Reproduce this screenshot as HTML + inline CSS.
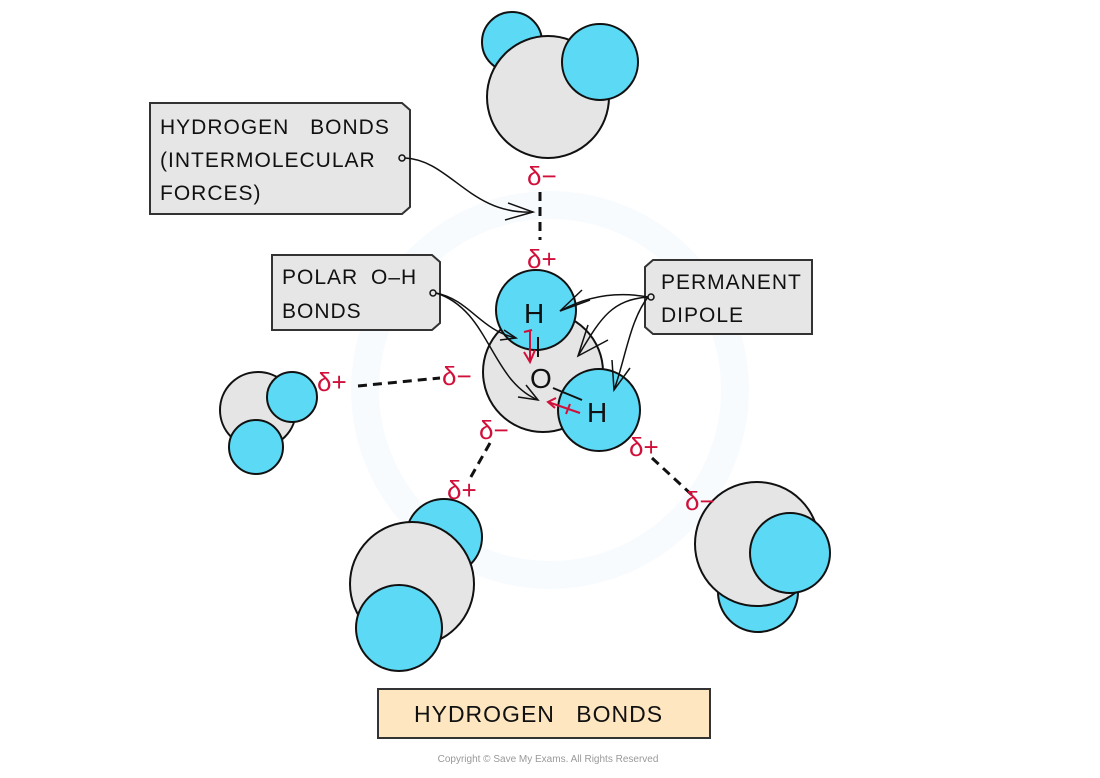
<!DOCTYPE html>
<html><head><meta charset="utf-8"><style>
html,body{margin:0;padding:0;background:#fff}
svg{display:block}
text{font-family:"Liberation Sans",sans-serif}
</style></head><body>
<svg width="1100" height="778" viewBox="0 0 1100 778" xmlns="http://www.w3.org/2000/svg">
<g opacity="0.04" fill="none" stroke="#4a90d9" stroke-width="28">
<circle cx="550" cy="390" r="185"/>
</g>
<g stroke="#111" stroke-width="2" >
<circle cx="512" cy="42" r="30" fill="#5bd9f5"/>
<circle cx="548" cy="97" r="61" fill="#e5e5e5"/>
<circle cx="600" cy="62" r="38" fill="#5bd9f5"/>
<circle cx="258" cy="410" r="38" fill="#e5e5e5"/>
<circle cx="292" cy="397" r="25" fill="#5bd9f5"/>
<circle cx="256" cy="447" r="27" fill="#5bd9f5"/>
<circle cx="444" cy="537" r="38" fill="#5bd9f5"/>
<circle cx="412" cy="584" r="62" fill="#e5e5e5"/>
<circle cx="399" cy="628" r="43" fill="#5bd9f5"/>
<circle cx="758" cy="592" r="40" fill="#5bd9f5"/>
<circle cx="757" cy="544" r="62" fill="#e5e5e5"/>
<circle cx="790" cy="553" r="40" fill="#5bd9f5"/>
<circle cx="543" cy="372" r="60" fill="#e5e5e5"/>
<circle cx="536" cy="310" r="40" fill="#5bd9f5"/>
<circle cx="599" cy="410" r="41" fill="#5bd9f5"/>
<line x1="538" y1="337" x2="538" y2="357"/>
<line x1="553" y1="388" x2="582" y2="400"/>
</g>
<g fill="#111" font-size="28">
<text x="524" y="323">H</text>
<text x="530" y="388">O</text>
<text x="587" y="422">H</text>
</g>
<g stroke="#111" stroke-width="3" stroke-dasharray="9,6" fill="none">
<line x1="540" y1="192" x2="540" y2="240"/>
<line x1="358" y1="386" x2="440" y2="378"/>
<line x1="490" y1="443" x2="468" y2="482"/>
<line x1="652" y1="458" x2="692" y2="495"/>
</g>
<g fill="#d0103a" font-size="26">
<text x="527" y="185">δ−</text>
<text x="527" y="268">δ+</text>
<text x="317" y="391">δ+</text>
<text x="442" y="385">δ−</text>
<text x="479" y="439">δ−</text>
<text x="447" y="499">δ+</text>
<text x="629" y="456">δ+</text>
<text x="685" y="510">δ−</text>
</g>
<g stroke="#d0103a" stroke-width="2" fill="none">
<line x1="530" y1="330" x2="530" y2="362"/><polyline points="524,352 530,362 535,350"/>
<line x1="524" y1="332" x2="532" y2="330"/>
<line x1="580" y1="413" x2="548" y2="402"/><polyline points="556,398 548,402 555,408"/>
<line x1="570" y1="404" x2="566" y2="414"/>
</g>
<g stroke="#333" stroke-width="2" fill="#e6e6e6">
<polygon points="150,103 402,103 410,110 410,207 402,214 150,214"/>
<polygon points="272,255 432,255 440,262 440,323 432,330 272,330"/>
<polygon points="653,260 812,260 812,334 653,334 645,327 645,267"/>
<rect x="378" y="689" width="332" height="49" fill="#fde6c0"/>
</g>
<g fill="#111" font-size="21" letter-spacing="1">
<text x="160" y="134" word-spacing="14">HYDROGEN BONDS</text>
<text x="160" y="167">(INTERMOLECULAR</text>
<text x="160" y="200">FORCES)</text>
<text x="282" y="284" word-spacing="6">POLAR O–H</text>
<text x="282" y="318">BONDS</text>
<text x="661" y="289">PERMANENT</text>
<text x="661" y="322">DIPOLE</text>
<text x="414" y="722" font-size="23" word-spacing="14">HYDROGEN BONDS</text>
</g>
<g stroke="#111" stroke-width="1.5" fill="none">
<circle cx="402" cy="158" r="3"/>
<path d="M405,158 C450,160 470,215 533,212"/><polyline points="508,203 533,212 505,220"/>
<circle cx="433" cy="293" r="3"/>
<path d="M436,293 C470,300 480,330 516,338"/><polyline points="504,330 516,338 500,340"/>
<path d="M436,293 C490,310 490,380 538,400"/><polyline points="526,385 538,400 518,397"/>
<circle cx="651" cy="297" r="3"/>
<path d="M648,297 C610,290 580,300 560,311"/><polyline points="582,290 560,311 590,300"/>
<path d="M648,297 C610,300 600,320 578,356"/><polyline points="588,325 578,356 608,340"/>
<path d="M648,297 C630,320 625,360 614,390"/><polyline points="612,360 614,390 630,368"/>
</g>
<text x="548" y="762" font-size="10" fill="#999" text-anchor="middle">Copyright © Save My Exams. All Rights Reserved</text>
</svg>
</body></html>
